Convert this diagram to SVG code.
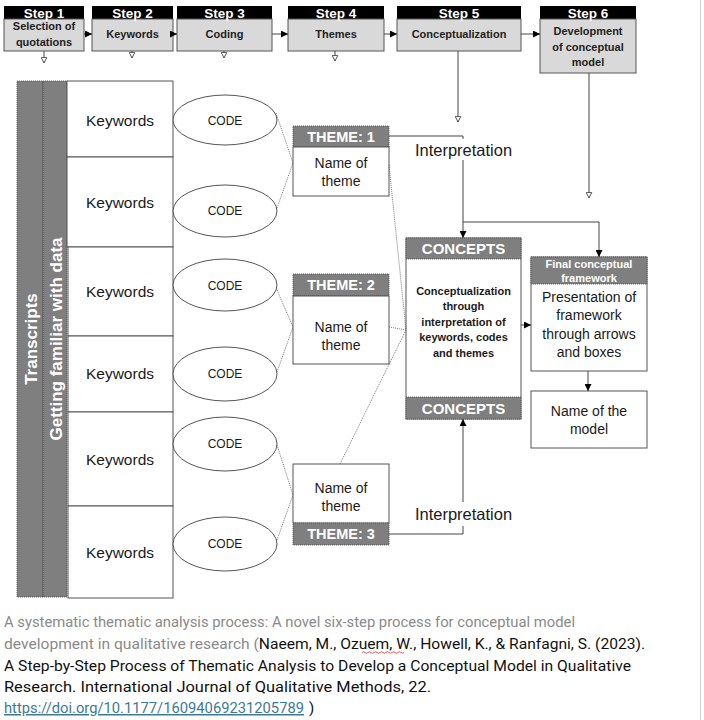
<svg xmlns="http://www.w3.org/2000/svg" width="704" height="720" viewBox="0 0 704 720">
<defs>
<marker id="fill" viewBox="0 0 8 8" refX="8" refY="4" markerWidth="7" markerHeight="7" markerUnits="userSpaceOnUse" orient="auto"><path d="M0,0 L8,4 L0,8 Z" fill="#000"/></marker>
<marker id="hollow" viewBox="0 0 10 10" refX="9" refY="5" markerWidth="7" markerHeight="7" markerUnits="userSpaceOnUse" orient="auto"><path d="M1,1 L9,5 L1,9 Z" fill="#fff" stroke="#444" stroke-width="1.3"/></marker>
</defs>
<style>
text{font-family:"Liberation Sans",Arial,sans-serif;fill:#1a1a1a}
.sh{fill:#000}
.sb{fill:#d9d9d9;stroke:#555;stroke-width:1}
.sht{fill:#fff;font-weight:bold;font-size:13.5px;text-anchor:middle}
.sbt{font-weight:bold;font-size:11px;text-anchor:middle;fill:#222}
.gray{fill:#7f7f7f;stroke:#444;stroke-width:0.8;stroke-dasharray:1 1}
.box{fill:#fff;stroke:#555;stroke-width:1}
.kw{font-size:15.5px;text-anchor:middle}
.code{font-size:12px;text-anchor:middle}
.ht{fill:#fff;font-weight:bold;font-size:14.5px;text-anchor:middle}
.bt{font-size:14px;text-anchor:middle}
.vt{fill:#fff;font-weight:bold;font-size:17px;text-anchor:middle}
.ct{fill:#fff;font-weight:bold;font-size:15px;text-anchor:middle}
.cb{font-weight:bold;font-size:11px;text-anchor:middle}
.it{font-size:16.5px;text-anchor:middle}
.ft{fill:#fff;font-weight:bold;font-size:11px;text-anchor:middle}
.ln{fill:none;stroke:#444;stroke-width:1}
.dot{fill:none;stroke:#555;stroke-width:0.8;stroke-dasharray:1 1}
.cap{font-family:Roboto,"Liberation Sans",sans-serif;font-size:15px}
</style>
<rect width="704" height="720" fill="#fff"/>
<line x1="700.5" y1="0" x2="700.5" y2="720" stroke="#d0d0d0"/>

<g id="step1"><rect class="sh" x="4" y="6" width="80" height="13"/><rect class="sb" x="4" y="19" width="80" height="32"/><text class="sht" x="44" y="18">Step 1</text><text class="sbt" x="44" y="30">Selection of</text><text class="sbt" x="44" y="46">quotations</text></g>
<g id="step2"><rect class="sh" x="92" y="6" width="81" height="13"/><rect class="sb" x="92" y="19" width="81" height="32"/><text class="sht" x="132.5" y="18">Step 2</text><text class="sbt" x="132.5" y="38">Keywords</text></g>
<g id="step3"><rect class="sh" x="177" y="6" width="95" height="13"/><rect class="sb" x="177" y="19" width="95" height="32"/><text class="sht" x="224.5" y="18">Step 3</text><text class="sbt" x="224.5" y="38">Coding</text></g>
<g id="step4"><rect class="sh" x="288" y="6" width="96" height="13"/><rect class="sb" x="288" y="19" width="96" height="32"/><text class="sht" x="336" y="18">Step 4</text><text class="sbt" x="336" y="38">Themes</text></g>
<g id="step5"><rect class="sh" x="397" y="6" width="124" height="13"/><rect class="sb" x="397" y="19" width="124" height="32"/><text class="sht" x="459" y="18">Step 5</text><text class="sbt" x="459" y="38">Conceptualization</text></g>
<g id="step6"><rect class="sh" x="540" y="6" width="96" height="13"/><rect class="sb" x="540" y="19" width="96" height="54"/><text class="sht" x="588" y="18">Step 6</text><text class="sbt" x="588" y="35">Development</text><text class="sbt" x="588" y="51">of conceptual</text><text class="sbt" x="588" y="66">model</text></g>

<g id="transcripts"><rect class="gray" x="17" y="81" width="26" height="516"/><text class="vt" transform="translate(37,339) rotate(-90)">Transcripts</text></g>
<g id="familiar"><rect class="gray" x="43" y="81" width="24" height="516"/><text class="vt" transform="translate(62,339) rotate(-90)">Getting familiar with data</text></g>

<g id="keywords">
<rect class="box" x="67" y="81" width="106" height="76"/><text class="kw" x="120" y="125.5">Keywords</text>
<rect class="box" x="67" y="157" width="106" height="90"/><text class="kw" x="120" y="208">Keywords</text>
<rect class="box" x="68" y="247" width="105" height="89"/><text class="kw" x="120" y="296.5">Keywords</text>
<rect class="box" x="68" y="336" width="105" height="76"/><text class="kw" x="120" y="379">Keywords</text>
<rect class="box" x="68" y="412" width="105" height="94"/><text class="kw" x="120" y="465">Keywords</text>
<rect class="box" x="68" y="506" width="105" height="92"/><text class="kw" x="120" y="557.5">Keywords</text>
</g>

<g id="codes">
<ellipse class="box" cx="225" cy="120" rx="52" ry="25"/><text class="code" x="225" y="125">CODE</text>
<ellipse class="box" cx="225" cy="211" rx="52" ry="26"/><text class="code" x="225" y="215">CODE</text>
<ellipse class="box" cx="225" cy="285" rx="52" ry="26"/><text class="code" x="225" y="290">CODE</text>
<ellipse class="box" cx="225" cy="374" rx="52" ry="27"/><text class="code" x="225" y="378">CODE</text>
<ellipse class="box" cx="225" cy="444" rx="52" ry="27"/><text class="code" x="225" y="448">CODE</text>
<ellipse class="box" cx="225" cy="544" rx="52" ry="27"/><text class="code" x="225" y="548">CODE</text>
</g>

<g id="theme1"><rect class="gray" x="293" y="126" width="96" height="21"/><rect class="box" x="293" y="147" width="96" height="49"/><text class="ht" x="341" y="141.7">THEME: 1</text><text class="bt" x="341" y="168">Name of</text><text class="bt" x="341" y="186">theme</text></g>
<g id="theme2"><rect class="gray" x="293" y="274" width="96" height="22"/><rect class="box" x="293" y="296" width="96" height="68"/><text class="ht" x="341" y="290">THEME: 2</text><text class="bt" x="341" y="332">Name of</text><text class="bt" x="341" y="350">theme</text></g>
<g id="theme3"><rect class="box" x="293" y="464" width="96" height="59"/><rect class="gray" x="293" y="523" width="96" height="22"/><text class="ht" x="341" y="539">THEME: 3</text><text class="bt" x="341" y="493">Name of</text><text class="bt" x="341" y="511">theme</text></g>

<g id="concepts"><rect class="box" x="406" y="238" width="115" height="181"/><rect class="gray" x="406" y="238" width="115" height="21"/><rect class="gray" x="406" y="397" width="115" height="22"/><text class="ct" x="463.5" y="254">CONCEPTS</text><text class="ct" x="463.5" y="413.5">CONCEPTS</text>
<text class="cb" x="463.5" y="295">Conceptualization</text><text class="cb" x="463.5" y="310">through</text><text class="cb" x="463.5" y="326">interpretation of</text><text class="cb" x="463.5" y="341">keywords, codes</text><text class="cb" x="463.5" y="357">and themes</text></g>

<g id="framework"><rect class="box" x="531" y="257" width="116" height="114"/><rect class="gray" x="531" y="257" width="116" height="27"/><text class="ft" x="589" y="267.5">Final conceptual</text><text class="ft" x="589" y="282">framework</text>
<text class="bt" x="589" y="302">Presentation of</text><text class="bt" x="589" y="320">framework</text><text class="bt" x="589" y="339">through arrows</text><text class="bt" x="589" y="357">and boxes</text></g>
<g id="model"><rect class="box" x="531" y="391" width="116" height="57"/><text class="bt" x="589" y="416">Name of the</text><text class="bt" x="589" y="434">model</text></g>

<g id="interp1"><text class="it" x="463.5" y="156">Interpretation</text></g>
<g id="interp2"><text class="it" x="463.5" y="520">Interpretation</text></g>

<g id="connectors">
<line class="ln" x1="84" y1="34" x2="92" y2="34" marker-end="url(#fill)"/>
<line class="ln" x1="173" y1="34" x2="177" y2="34" marker-end="url(#fill)"/>
<line class="ln" x1="272" y1="34" x2="288" y2="34" marker-end="url(#fill)"/>
<line class="ln" x1="384" y1="34" x2="397" y2="34" marker-end="url(#fill)"/>
<line class="ln" x1="521" y1="34" x2="540" y2="34" marker-end="url(#fill)"/>
<line class="ln" x1="44" y1="51" x2="44" y2="63" marker-end="url(#hollow)"/>
<line class="ln" x1="132" y1="51" x2="132" y2="58" marker-end="url(#hollow)"/>
<line class="ln" x1="224" y1="51" x2="224" y2="58" marker-end="url(#hollow)"/>
<line class="ln" x1="335" y1="51" x2="335" y2="61" marker-end="url(#hollow)"/>
<line class="ln" x1="458" y1="51" x2="458" y2="122" marker-end="url(#hollow)"/>
<line class="ln" x1="589" y1="73" x2="589" y2="198" marker-end="url(#hollow)"/>
<polyline class="ln" points="389,136 463,136 463,139"/>
<line class="ln" x1="463" y1="160" x2="463" y2="238" marker-end="url(#fill)"/>
<polyline class="ln" points="463,222 599,222 599,257" marker-end="url(#fill)"/>
<line class="ln" x1="521" y1="325" x2="531" y2="325" marker-end="url(#fill)"/>
<line class="ln" x1="588" y1="371" x2="588" y2="391" marker-end="url(#fill)"/>
<polyline class="ln" points="389,534 463,534 463,526"/>
<line class="ln" x1="463" y1="502" x2="463" y2="419" marker-end="url(#fill)"/>
<line class="dot" x1="276" y1="113" x2="293" y2="163"/>
<line class="dot" x1="277" y1="208" x2="293" y2="163"/>
<line class="dot" x1="277" y1="290" x2="293" y2="327"/>
<line class="dot" x1="277" y1="372" x2="293" y2="327"/>
<line class="dot" x1="277" y1="445" x2="293" y2="495"/>
<line class="dot" x1="277" y1="540" x2="293" y2="495"/>
<line class="dot" x1="389" y1="165" x2="406" y2="330"/>
<line class="dot" x1="389" y1="327" x2="406" y2="330"/>
<line class="dot" x1="340" y1="464" x2="406" y2="330"/>
</g>

<g id="caption">
<text class="cap" x="4" y="627" style="fill:#8a8a8a" textLength="571" lengthAdjust="spacingAndGlyphs">A systematic thematic analysis process: A novel six-step process for conceptual model</text>
<text class="cap" x="4" y="649" textLength="641" lengthAdjust="spacingAndGlyphs"><tspan style="fill:#8a8a8a">development in qualitative research (</tspan><tspan style="fill:#111">Naeem, M., Ozuem, W., Howell, K., &amp; Ranfagni, S. (2023).</tspan></text>
<path d="M362,652.5 q1.5,-1.5 3,0 t3,0 t3,0 t3,0 t3,0 t3,0 t3,0 t3,0 t3,0 t3,0 t3,0 t3,0 t3,0 t3,0" fill="none" stroke="#d03030" stroke-width="0.8"/>
<text class="cap" x="4" y="671" style="fill:#111" textLength="627" lengthAdjust="spacingAndGlyphs">A Step-by-Step Process of Thematic Analysis to Develop a Conceptual Model in Qualitative</text>
<text class="cap" x="4" y="692" style="fill:#111" textLength="427" lengthAdjust="spacingAndGlyphs">Research. International Journal of Qualitative Methods, 22.</text>
<text class="cap" x="4" y="713" style="fill:#3d7a96;text-decoration:underline" textLength="300" lengthAdjust="spacingAndGlyphs">https://doi.org/10.1177/16094069231205789</text>
<text class="cap" x="309" y="713" style="fill:#111">)</text>
</g>
</svg>
